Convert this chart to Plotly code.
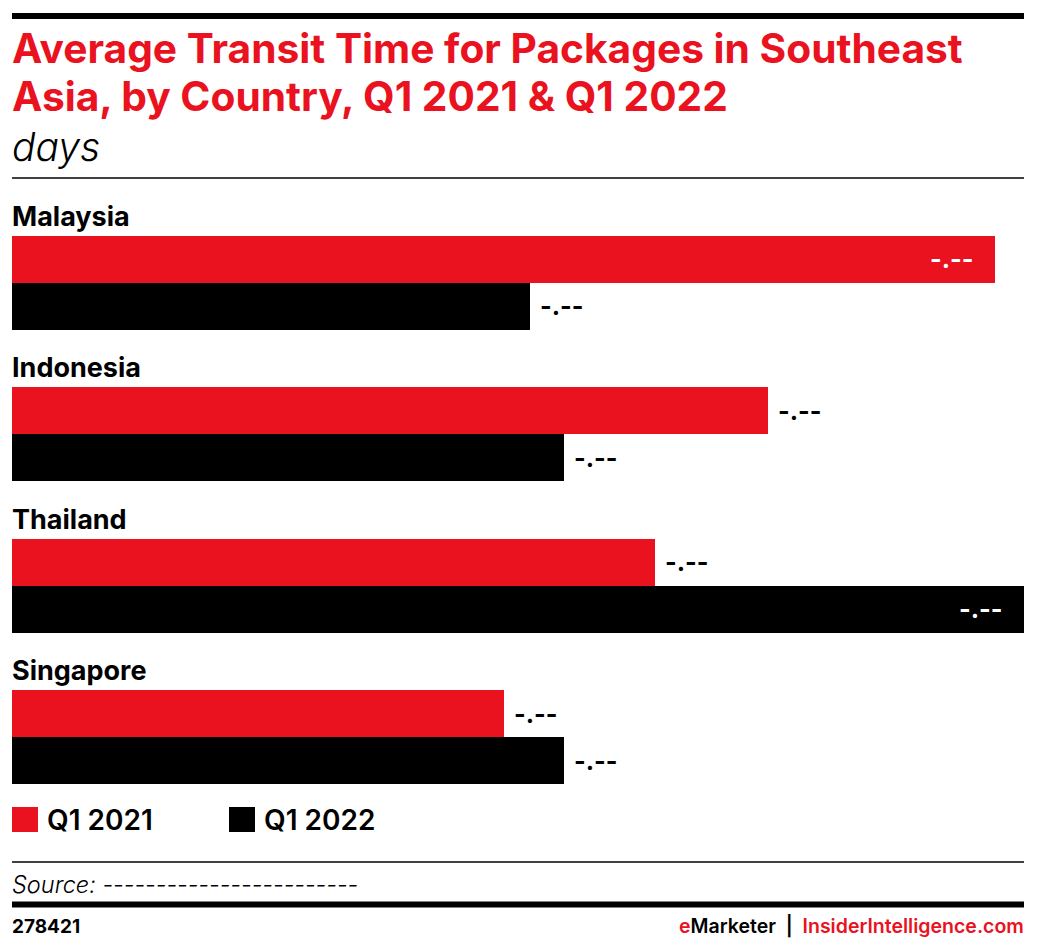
import plotly.graph_objects as go

countries = ["Malaysia", "Indonesia", "Thailand", "Singapore"]
q1_2021 = [9.71, 7.47, 6.35, 4.86]
q1_2022 = [5.12, 5.45, 10.0, 5.45]
series_names = ["Q1 2021", "Q1 2022"]
value_label = "-.--"
title_lines = ["Average Transit Time for Packages in Southeast",
               "Asia, by Country, Q1 2021 & Q1 2022"]

RED = "#e9121e"
BLACK = "#000000"
FONT = "Inter"

W, H = 1038, 950
LEFT, RIGHT = 12, 1024
TOP, BOTTOM = 236, 784
GAP = 3.223  # distance between country groups, in bar heights


def px(x):
    return (x - LEFT) / (RIGHT - LEFT)


def py(y):
    return (BOTTOM - y) / (BOTTOM - TOP)


def note(text, x, y, size, weight=400, color=BLACK, xanchor="left", yanchor="middle", xshift=-2):
    fig.add_annotation(
        x=x, y=y, xref="paper", yref="paper", xanchor=xanchor, yanchor=yanchor,
        text=text, showarrow=False, xshift=xshift,
        font=dict(family=FONT, size=size, weight=weight, color=color),
    )


fig = go.Figure()

xmax = max(q1_2021 + q1_2022)
for name, vals, color, offset in [(series_names[0], q1_2021, RED, 0.5),
                                  (series_names[1], q1_2022, BLACK, 1.5)]:
    ys = [i * GAP + offset for i in range(len(countries))]
    fig.add_trace(go.Bar(
        x=vals, y=ys, orientation="h", width=1, name=name,
        marker=dict(color=color, line=dict(width=0)),
        showlegend=False, hoverinfo="x",
    ))
    for v, y in zip(vals, ys):
        inside = v > 0.9 * xmax
        fig.add_annotation(
            x=v, y=y, xref="x", yref="y", text=value_label, showarrow=False,
            xanchor="right" if inside else "left", xshift=-20 if inside else 8,
            font=dict(family=FONT, size=25, weight=700, color="white" if inside else BLACK),
        )

for i, c in enumerate(countries):
    fig.add_annotation(
        x=0, y=i * GAP, xref="paper", yref="y", text=c, showarrow=False,
        xanchor="left", yanchor="bottom", yshift=1, xshift=-2,
        font=dict(family=FONT, size=27, weight=700, color=BLACK),
    )

# header
note(title_lines[0], 0, py(49), 40.7, 700, RED)
note(title_lines[1], 0, py(96), 40.7, 700, RED)
note("<i>days</i>", 0, py(147), 39, 300)

# legend
legend_x = [12, 229]
for name, color, lx in zip(series_names, [RED, BLACK], legend_x):
    fig.add_shape(type="rect", xref="paper", yref="paper", x0=px(lx), x1=px(lx + 26),
                  y0=py(832), y1=py(807), fillcolor=color, line=dict(width=0))
    note(name, px(lx + 35), py(820), 28, 600)

# footer
note("<i>Source: ------------------------</i>", 0, py(884), 23.5, 300)
note("278421", 0, py(926), 19, 700)
note(f"<span style='color:{RED}'>e</span>Marketer  |  <span style='color:{RED}'>InsiderIntelligence.com</span>",
     1, py(926), 19.5, 600, xanchor="right", xshift=2)

# rules
for y, w in [(16, 6), (178, 1.5), (862, 1.5), (904.5, 6)]:
    fig.add_shape(type="line", xref="paper", yref="paper", x0=0, x1=1, y0=py(y), y1=py(y),
                  line=dict(color=BLACK, width=w))

fig.update_xaxes(range=[0, xmax], visible=False, fixedrange=True)
fig.update_yaxes(range=[3 * GAP + 2, 0], visible=False, fixedrange=True)

fig.update_layout(
    width=W, height=H,
    margin=dict(l=LEFT, r=W - RIGHT, t=TOP, b=H - BOTTOM, autoexpand=False),
    plot_bgcolor="white", paper_bgcolor="white",
    bargap=0, showlegend=False,
)

fig.write_html("out.html", config={"displayModeBar": False},
               post_script="document.body.style.margin='0';")
